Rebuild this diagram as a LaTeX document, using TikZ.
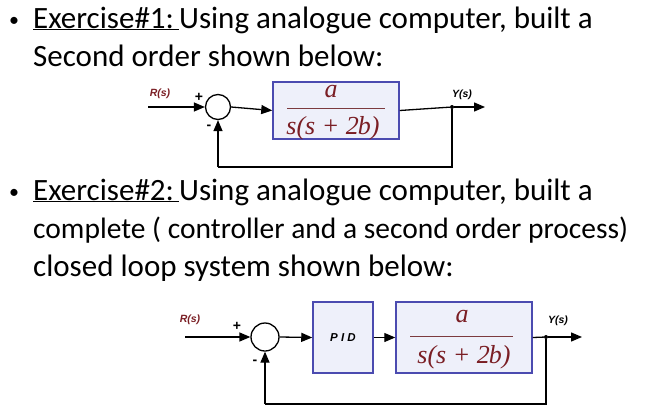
\documentclass[tikz,border=0pt]{standalone}
\usepackage{fontspec}
\setmainfont{Carlito}
\newfontfamily\lab{Liberation Sans}
\newfontfamily\tms{Liberation Serif}
\usetikzlibrary{arrows.meta}
\definecolor{bx}{HTML}{4B4BB0}
\definecolor{bfill}{HTML}{EEF0FA}
\definecolor{dred}{HTML}{7A1E24}
\tikzset{
 x=1pt,y=-1pt,
 blk/.style={draw=bx,line width=1.5pt,fill=bfill,minimum width=#1,minimum height=57pt,inner sep=0pt},
 sumc/.style={circle,draw,line width=1.3pt,minimum size=25pt,inner sep=0pt},
 sig/.style={line width=1.3pt,-{Triangle[length=11pt,width=9pt]}},
 wire/.style={line width=1.3pt},
 lbl/.style={font=\lab\bfseries\itshape\fontsize{10.5}{10.5}\selectfont,text=dred},
 pm/.style={font=\lab\bfseries\fontsize{14}{14}\selectfont},
 txt/.style={anchor=base west,inner sep=0pt,font=\fontsize{31}{31}\selectfont},
 frac/.style={text=dred,font=\tms\itshape\fontsize{26}{26}\selectfont,inner sep=0pt},
 dotn/.style={circle,fill,inner sep=0pt,minimum size=4pt}
}
\begin{document}
\begin{tikzpicture}
\useasboundingbox (0,0) rectangle (667,410);
\node[txt,font=\fontsize{20}{20}\selectfont] (b1) at (9,26) {•};
\node[txt] (t1) at (33,28) {\underline{Exercise\#1:\,}Using analogue computer, built a};
\node[txt] (t2) at (33,66) {Second order shown below:};
\node[txt,font=\fontsize{20}{20}\selectfont] (b2) at (9,198) {•};
\node[txt] (t3) at (33,200) {\underline{Exercise\#2:\,}Using analogue computer, built a};
\node[txt,font=\fontsize{29.5}{29.5}\selectfont] (t4) at (33,238) {complete ( controller and a second order process)};
\node[txt] (t5) at (33,276) {closed loop system shown below:};
% diagram 1
\coordinate (r1) at (148,107);
\node[sumc] (s1) at (218,107) {};
\node[blk=126pt] (g1) at (336,110.5) {};
\draw[dred!70!gray,line width=0.6pt] (287,108) -- (385,108);
\node[frac] (a1) at (331,92) {a};
\node[frac] (d1) at (333,128) {s(s + 2\kern-1pt b)};
\node[dotn] (o1) at (452,107) {};
\coordinate (y1) at (485,107);
\coordinate (f1) at (452,167);
\coordinate (f2) at (218,167);
\draw[sig] (r1) -- (s1.west);
\draw[sig] (s1.east) -- (g1.west);
\draw[wire] (g1.east) -- (o1);
\draw[sig] (o1) -- (y1);
\draw[wire] (o1) -- (f1) -- (f2);
\draw[sig] (f2) -- (s1.south);
\node[lbl] (R1) at (160,94) {R(s)};
\node[lbl,text=black] (Y1) at (462,95) {Y(s)};
\node[pm] (p1) at (199,97) {+};
\node[pm] (m1) at (209,127) {-};
% diagram 2
\coordinate (r2) at (185,337);
\node[sumc,minimum size=28pt] (s2) at (265,337) {};
\node[blk=60pt,minimum height=71pt] (pid) at (343,337.5) {\lab\bfseries\itshape\fontsize{11.5}{11.5}\selectfont P I D};
\node[blk=136pt,minimum height=71pt] (g2) at (464,337.5) {};
\draw[dred!70!gray,line width=0.6pt] (410,336) -- (513,336);
\node[frac] (a2) at (462,317) {a};
\node[frac] (d2) at (464,357) {s(s + 2\kern-1pt b)};
\node[dotn] (o2) at (546,337) {};
\coordinate (y2) at (582,337);
\coordinate (f3) at (546,404);
\coordinate (f4) at (265,404);
\draw[sig] (r2) -- (s2.west);
\draw[sig] (s2.east) -- (pid.west);
\draw[sig] (pid.east) -- (g2.west);
\draw[wire] (g2.east) -- (o2);
\draw[sig] (o2) -- (y2);
\draw[wire] (o2) -- (f3) -- (f4);
\draw[sig] (f4) -- (s2.south);
\node[lbl] (R2) at (190,320) {R(s)};
\node[lbl,text=black] (Y2) at (558,321) {Y(s)};
\node[pm] (p2) at (237,326) {+};
\node[pm] (m2) at (255,362) {-};
\end{tikzpicture}
\end{document}
